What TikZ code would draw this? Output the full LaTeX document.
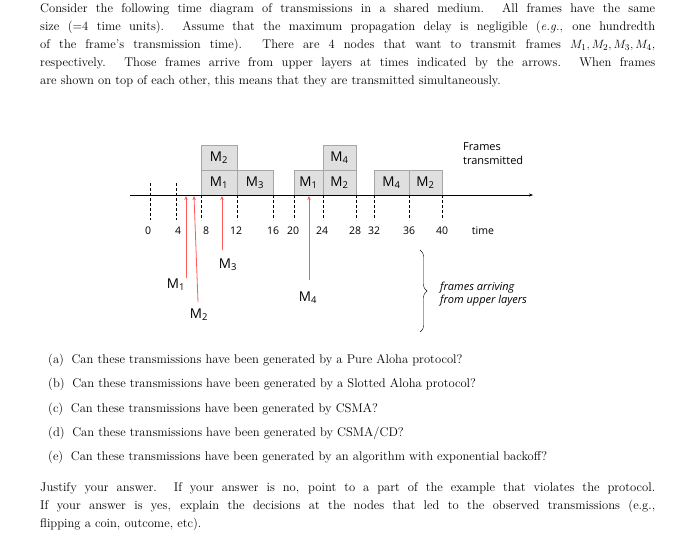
\documentclass[tikz,border=0pt]{standalone}
\usepackage{fontspec}
\newfontfamily\dfont{Open Sans}
\usetikzlibrary{decorations.pathreplacing,arrows.meta}
\begin{document}
\begin{tikzpicture}[x=1pt,y=-1pt,
  frame/.style={draw=gray!70,fill=gray!25},
  tick/.style={densely dashed,thin},
  arr/.style={draw=red!65,line width=0.8pt,-{Stealth[length=4pt,width=3.5pt]}},
  ml/.style={font=\dfont\fontsize{13.5}{14}\selectfont,inner sep=0pt},
  num/.style={font=\dfont\fontsize{10.5}{12}\selectfont,inner sep=0pt},
  para/.style={anchor=north west,inner sep=0pt,align=justify,text width=615pt,font=\fontsize{12.6}{18}\selectfont},
  q/.style={anchor=west,inner sep=0pt,font=\fontsize{12.6}{14}\selectfont}]
\useasboundingbox (0,0) rectangle (700,550);
\node[para] (p1) at (40,3) {Consider the following time diagram of transmissions in a shared medium. All frames have the same\linebreak size (=4 time units). Assume that the maximum propagation delay is negligible (\textit{e.g.}, one hundredth\linebreak of the frame's transmission time). There are 4 nodes that want to transmit frames $M_1,M_2,M_3,M_4$,\linebreak respectively. Those frames arrive from upper layers at times indicated by the arrows. When frames\linebreak are shown on top of each other, this means that they are transmitted simultaneously.\par};
% boxes
\foreach \a/\b/\t/\y in {201/237/1/170,237/273/3/170,294/323/1/170,323/356/2/170,374/409/4/170,409/442/2/170,201/237/2/145,323/356/4/145}{
  \draw[frame] (\a,\y) rectangle (\b,\y+25);
  \node[ml] (b\a\y) at ({(\a+\b)/2},\y+12.5) {M\textsubscript{\t}};
}
\coordinate (ax0) at (130,195); \coordinate (ax1) at (533,195);
\draw[-{Stealth[length=4pt,width=3pt]}] (ax0) -- (ax1);
\draw[tick] (150,183) -- (150,220);
\draw[tick] (176,183) -- (176,220);
\foreach \x in {201,237,273,294,323,356,374,409,442}{\draw[tick] (\x,195) -- (\x,220);}
\foreach \x/\t in {148/0,178/4,206/8,236/12,273/16,293/20,322/24,355/28,374/32,409/36,442/40}{
  \node[num] (n\t) at (\x,231) {\t};}
\node[num] (time) at (483,231) {time};
\node[num,align=left,anchor=west,font=\dfont\fontsize{11}{14}\selectfont] (ft) at (463,154) {Frames\\transmitted};
% arrivals
\node[ml] (a1) at (176,285) {M\textsubscript{1}};
\node[ml] (a2) at (199,315) {M\textsubscript{2}};
\node[ml] (a3) at (228,265) {M\textsubscript{3}};
\node[ml] (a4) at (308,298) {M\textsubscript{4}};
\coordinate (t1) at (186,196); \coordinate (t2) at (194,196);
\coordinate (t3) at (222,196); \coordinate (t4) at (309,196);
\draw[arr] (186,278) -- (t1);
\draw[arr] (198,302) -- (t2);
\draw[arr] (222,250) -- (t3);
\draw[arr] (309,280) -- (t4);
\draw[decorate,decoration={brace,amplitude=7pt}] (420,250) -- (420,332);
\node[num,align=left,anchor=west,font=\dfont\itshape\fontsize{11}{13}\selectfont] (fa) at (440,294) {frames arriving\\from upper layers};
\node[q] (qa) at (48,360) {(a)\; Can these transmissions have been generated by a Pure Aloha protocol?};
\node[q] (qb) at (48,384) {(b)\; Can these transmissions have been generated by a Slotted Aloha protocol?};
\node[q] (qc) at (48,409) {(c)\; Can these transmissions have been generated by CSMA?};
\node[q] (qd) at (48,433) {(d)\; Can these transmissions have been generated by CSMA/CD?};
\node[q] (qe) at (48,457) {(e)\; Can these transmissions have been generated by an algorithm with exponential backoff?};
\node[para] (p2) at (40,482) {Justify your answer. If your answer is no, point to a part of the example that violates the protocol.\linebreak If your answer is yes, explain the decisions at the nodes that led to the observed transmissions (e.g.,\linebreak flipping a coin, outcome, etc).\par};
\end{tikzpicture}
\end{document}
